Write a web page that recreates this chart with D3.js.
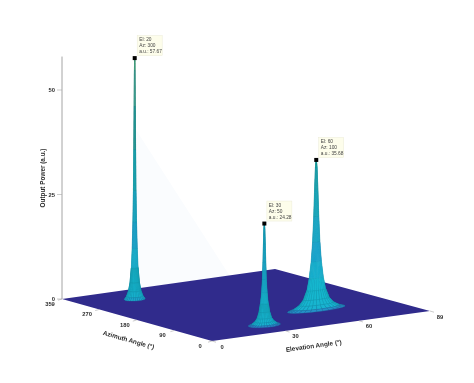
<!DOCTYPE html>
<html>
<head>
<meta charset="utf-8">
<script src="https://cdn.jsdelivr.net/npm/d3@7"></script>
<style>
  html, body { margin: 0; padding: 0; background: #fff; }
  svg { display: block; opacity: 0.995; will-change: opacity; }
  text { font-family: "Liberation Sans", Arial, sans-serif; fill: #2a2a2a; }
  .tick-label { font-size: 5.8px; font-weight: bold; text-anchor: middle; }
  .axis-label { font-size: 6.4px; font-weight: bold; text-anchor: middle; }
  .tip-text { font-size: 4.8px; fill: #444; }
</style>
</head>
<body>
<div id="chart"></div>
<script>
const WIDTH = 474, HEIGHT = 383;

// peaks, read from the data tips
const peakEl = [20, 30, 60];
const peakAz = [300, 50, 100];
const peakPower = [57.67, 24.28, 35.68];
// half width of each peak's foot, in degrees
const peakElSpread = [3.8, 6, 11.5];
const peakAzSpread = [12, 16, 16];

// shape of a peak: distance from centre against share of peak height
const profileRadius = [1, 0.8, 0.6, 0.45, 0.33, 0.25, 0.18, 0.13, 0.09, 0.06, 0.03, 0.015, 0];
const profileHeight = [0, 0.012, 0.035, 0.07, 0.13, 0.21, 0.32, 0.45, 0.62, 0.8, 0.95, 0.98, 1];

const elTicks = [0, 30, 60, 89];
const azTicks = [0, 90, 180, 270, 359];
const powerTicks = [0, 25, 50];
const powerTop = 58;

const colorStops = [0, 0.1, 0.4, 5, 14, 26, 42, 58];
const colorValues = ["#2f2a8c", "#2a7cc4", "#17b2d0", "#14bad0", "#18aad2", "#16aec4", "#24aaa2", "#5cbd9a"];

// floor corners in screen space, the view is slightly in perspective
const CORNER_FRONT = [212, 341], CORNER_RIGHT = [430, 311], CORNER_LEFT = [62, 299], CORNER_BACK = [275, 269];

const elT = d3.scaleLinear().domain([0, 89]).range([0, 1]);
const azT = d3.scaleLinear().domain([0, 359]).range([0, 1]);
const rise = d3.scaleLinear().domain([0, 50]).range([0, 209]);
const color = d3.scaleLinear().domain(colorStops).range(colorValues);

function project(el, az, power = 0) {
  const e = elT(el), a = azT(az);
  const mix = (i) => (1 - a) * ((1 - e) * CORNER_FRONT[i] + e * CORNER_RIGHT[i])
    + a * ((1 - e) * CORNER_LEFT[i] + e * CORNER_BACK[i]);
  return [mix(0), mix(1) - rise(power)];
}

const svg = d3.select("#chart").append("svg").attr("width", WIDTH).attr("height", HEIGHT);
const line = d3.line();

// pale sheen behind the tall peak
svg.append("path")
  .attr("d", line([project(20, 300, 41), project(70, 359), project(20, 300)]) + "Z")
  .attr("fill", "#fafcfe");

// power axis
svg.append("path")
  .attr("d", line([project(0, 359), project(0, 359, powerTop)]))
  .attr("stroke", "#9a9a9a").attr("stroke-width", 0.9).attr("fill", "none");

powerTicks.forEach(t => {
  const [x, y] = project(0, 359, t);
  svg.append("path").attr("d", line([[x - 5, y], [x, y]])).attr("stroke", "#aaa").attr("stroke-width", 0.6);
  svg.append("text").attr("class", "tick-label").style("text-anchor", "end").attr("x", x - 7).attr("y", y + 2).text(t);
});

// floor
svg.append("path")
  .attr("d", line([project(0, 0), project(89, 0), project(89, 359), project(0, 359)]) + "Z")
  .attr("fill", colorValues[0]);

// floor ticks
elTicks.forEach(t => {
  const [x, y] = project(t, 0);
  svg.append("path").attr("d", line([[x, y], [x + 4, y + 1.2]])).attr("stroke", "#aaa").attr("stroke-width", 0.6);
  svg.append("text").attr("class", "tick-label").attr("x", x + 10).attr("y", y + 7.5).text(t);
});
azTicks.forEach(t => {
  const [x, y] = project(0, t);
  svg.append("path").attr("d", line([[x, y], [x - 4, y + 1.2]])).attr("stroke", "#aaa").attr("stroke-width", 0.6);
  svg.append("text").attr("class", "tick-label").attr("x", x - 12).attr("y", y + 7).text(t);
});

// peak meshes, far faces first
const spokes = d3.range(0, 28).map(i => i / 28 * 2 * Math.PI);
const faces = [];
peakEl.forEach((el, p) => {
  const at = (ring, s) => {
    const a = spokes[s % spokes.length], r = profileRadius[ring];
    return [el + r * peakElSpread[p] * Math.cos(a), peakAz[p] + r * peakAzSpread[p] * Math.sin(a), profileHeight[ring] * peakPower[p]];
  };
  for (let ring = 0; ring < profileRadius.length - 1; ring++) {
    spokes.forEach((_, s) => {
      const corners = [at(ring, s), at(ring, s + 1), at(ring + 1, s + 1), at(ring + 1, s)];
      faces.push({
        points: corners.map(c => project(c[0], c[1], c[2])),
        depth: d3.mean(corners, c => project(c[0], c[1])[1]),
        power: d3.mean(corners, c => c[2])
      });
    });
  }
});
faces.sort((a, b) => a.depth - b.depth);

svg.append("g").selectAll("path").data(faces).join("path")
  .attr("d", d => line(d.points) + "Z")
  .attr("fill", d => color(d.power))
  .attr("stroke", d => d3.color(color(d.power)).darker(0.7))
  .attr("stroke-width", d => d.power < 6 ? 0.3 : 0.1);

// data tips
peakEl.forEach((el, p) => {
  const [x, y] = project(el, peakAz[p], peakPower[p]);
  svg.append("rect").attr("x", x - 2).attr("y", y - 2).attr("width", 4).attr("height", 4).attr("fill", "#000");
  const g = svg.append("g").attr("transform", `translate(${x + 2.5},${y - 22.5})`);
  g.append("rect").attr("width", 25).attr("height", 20)
    .attr("fill", "#fdfdeb").attr("stroke", "#ececd8").attr("stroke-width", 0.5);
  [`El: ${el}`, `Az: ${peakAz[p]}`, `a.u.: ${peakPower[p]}`].forEach((s, i) => {
    g.append("text").attr("class", "tip-text").attr("x", 2).attr("y", 5.8 + i * 6).text(s);
  });
});

// axis titles
svg.append("text").attr("class", "axis-label")
  .attr("transform", "translate(45,178) rotate(-90)").text("Output Power (a.u.)");
svg.append("text").attr("class", "axis-label")
  .attr("transform", "translate(128,342) rotate(16)").text("Azimuth Angle (°)");
svg.append("text").attr("class", "axis-label")
  .attr("transform", "translate(314,348) rotate(-8)").text("Elevation Angle (°)");
</script>
</body>
</html>
